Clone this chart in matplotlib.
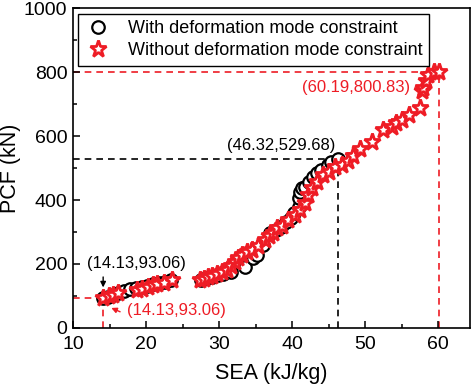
import matplotlib
matplotlib.use("Agg")
import matplotlib.pyplot as plt
from matplotlib.ticker import MultipleLocator

plt.rcParams['font.family'] = ['Liberation Sans', 'DejaVu Sans']

# With deformation mode constraint (black circles)
with_sea = [14.13, 14.8, 15.5, 16.2, 17.0, 17.8, 18.6, 19.4, 20.2, 21.0, 21.8, 22.6, 23.4,
            27.5, 28.2, 29.0, 29.8, 30.5, 31.7, 33.6, 34.7, 35.2, 36.0, 37.0, 37.8, 38.5,
            39.2, 39.8, 40.3, 40.9, 40.9, 41.1, 41.3, 41.8, 42.3, 42.9, 43.4, 44.0, 44.9,
            45.4, 46.32]
with_pcf = [93.06, 98, 103, 108, 115, 121, 125, 128, 132, 137, 141, 145, 150,
            150, 155, 160, 165, 170, 176, 192, 218, 228, 258, 296, 305, 315,
            330, 345, 360, 379, 405, 426, 437, 440, 455, 473, 483, 495, 509,
            520, 529.68]

# Without deformation mode constraint (red stars)
without_sea = [14.13, 14.9, 15.5, 16.2, 18.7, 19.4, 20.3, 21.0, 21.5, 22.4, 23.5,
               27.4, 28.0, 28.5, 29.1, 29.7, 30.4, 31.05, 31.6, 32.2, 32.6, 33.1, 33.8,
               34.5, 35.4, 36.3, 36.9, 37.4, 37.9, 38.6, 39.5, 40.4, 41.1, 41.8, 42.2,
               42.7, 43.4, 44.3, 45.0, 45.9, 46.8, 47.7, 48.4, 49.3, 50.9, 52.5, 53.66,
               54.3, 55.0, 56.0, 57.5, 57.8, 57.9, 58.4, 58.67, 59.4, 60.19]
without_pcf = [93.06, 99, 104, 109, 119, 122, 129, 133, 137, 142, 150,
               150, 154, 158, 163, 169, 175, 181, 195, 207, 218, 228, 236,
               244, 256, 275, 286, 296, 311, 320, 337, 353, 369, 390, 416,
               437, 457, 478, 488, 504, 509, 522, 537, 560, 582, 619, 629,
               640, 650, 666, 687, 740, 749, 773, 790, 801, 800.83]

RED = '#ee1c25'

fig = plt.figure(figsize=(4.74, 3.89), dpi=100)
ax = fig.add_axes([0.154, 0.157, 0.838, 0.822])

# reference dashed lines
dash = (0, (4, 3))
ax.plot([10, 46.32], [529.68, 529.68], ls=dash, color='black', lw=1.2, zorder=1)
ax.plot([46.32, 46.32], [0, 529.68], ls=dash, color='black', lw=1.2, zorder=1)
ax.plot([10, 60.19], [800.83, 800.83], ls=dash, color=RED, lw=1.2, zorder=1)
ax.plot([60.19, 60.19], [0, 800.83], ls=dash, color=RED, lw=1.2, zorder=1)
ax.plot([10, 14.13], [93.06, 93.06], ls=dash, color=RED, lw=1.2, zorder=1)
ax.plot([14.13, 14.13], [0, 93.06], ls=dash, color=RED, lw=1.2, zorder=1)

ax.plot(with_sea, with_pcf, ls='none', marker='o', markersize=9, mfc='white',
        mec='black', mew=1.6, label='With deformation mode constraint', zorder=2)
ax.plot(without_sea, without_pcf, ls='none', marker='*', markersize=12.5, mfc='white',
        mec=RED, mew=2.0, label='Without deformation mode constraint', zorder=3)

ax.text(45.9, 572, '(46.32,529.68)', ha='right', va='center', fontsize=12, color='black')
ax.text(56.2, 753, '(60.19,800.83)', ha='right', va='center', fontsize=12, color=RED)
ax.text(11.9, 203, '(14.13,93.06)', ha='left', va='center', fontsize=12, color='black')
ax.text(17.4, 56, '(14.13,93.06)', ha='left', va='center', fontsize=12, color=RED)
ax.annotate('', xy=(14.13, 118), xytext=(14.13, 168),
            arrowprops=dict(arrowstyle='-|>', color='black', lw=1, mutation_scale=8))
ax.annotate('', xy=(14.9, 66), xytext=(16.8, 47),
            arrowprops=dict(arrowstyle='-|>', color=RED, lw=1, mutation_scale=8))

ax.set_xlim(10, 64.4)
ax.set_ylim(0, 1000)
ax.xaxis.set_major_locator(MultipleLocator(10))
ax.xaxis.set_minor_locator(MultipleLocator(5))
ax.yaxis.set_major_locator(MultipleLocator(200))
ax.yaxis.set_minor_locator(MultipleLocator(100))
ax.tick_params(which='both', direction='in', labelsize=14, width=1.1)
ax.tick_params(which='major', length=5)
ax.tick_params(which='minor', length=3)
ax.tick_params(axis='x', which='major', pad=6)
ax.tick_params(axis='y', which='major', pad=4)
for s in ax.spines.values():
    s.set_linewidth(1.2)

ax.set_xlabel('SEA (kJ/kg)', fontsize=15.5, labelpad=7)
ax.set_ylabel('PCF (kN)', fontsize=15.5, labelpad=2)

leg = ax.legend(loc='upper left', fontsize=13, frameon=True, fancybox=False,
                edgecolor='black', framealpha=1, handletextpad=0.9, borderpad=0.35,
                labelspacing=0.3, handlelength=1.5, borderaxespad=0.3)
leg.get_frame().set_linewidth(1.0)

fig.savefig('out.png', dpi=100)
